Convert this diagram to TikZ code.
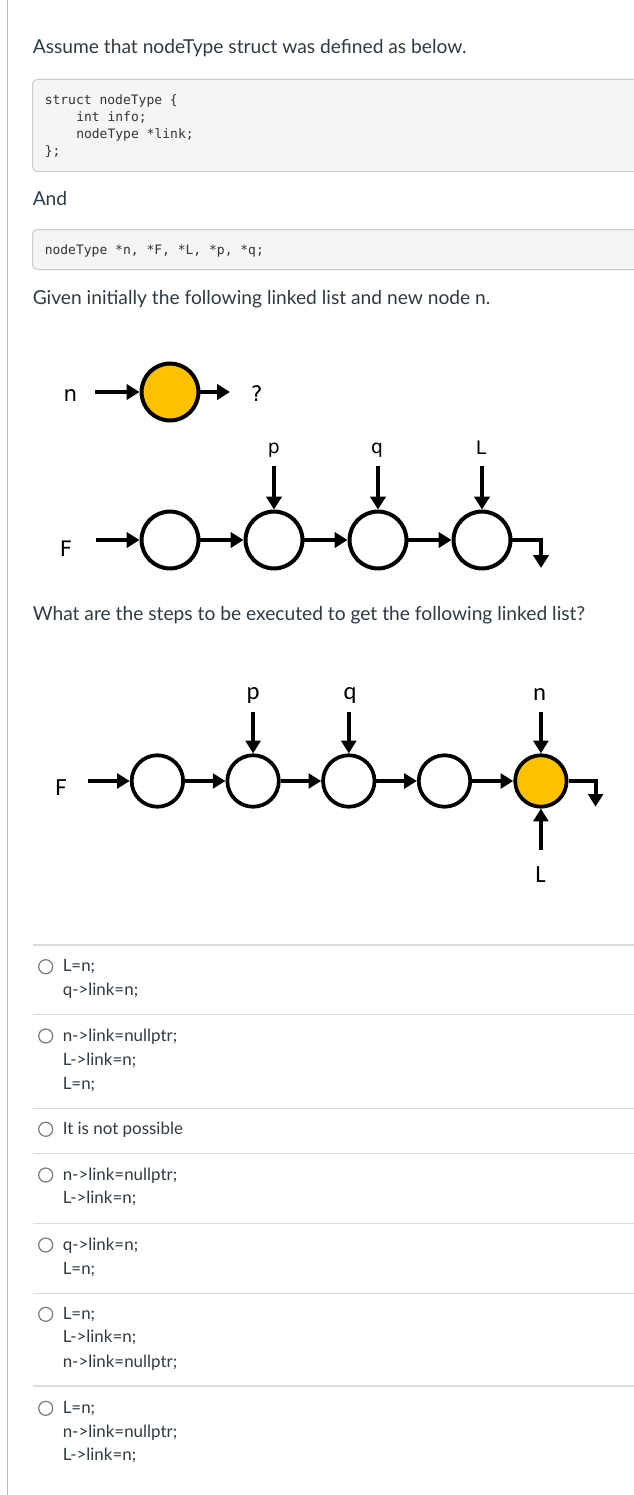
\documentclass[tikz,border=0pt]{standalone}
\usepackage{fontspec}
\setmainfont{Lato}
\newfontfamily\codefont{DejaVu Sans Mono}
\newfontfamily\diafont{DejaVu Sans}
\newfontfamily\diabfont{Carlito}
\usetikzlibrary{arrows.meta}
\definecolor{txt}{HTML}{2D3B45}
\definecolor{codetxt}{HTML}{333333}
\definecolor{codebg}{HTML}{F5F5F5}
\definecolor{codeline}{HTML}{CCCCCC}
\definecolor{sepcol}{HTML}{DDDDDD}
\definecolor{barcol}{HTML}{B8B8B8}
\definecolor{radiocol}{HTML}{7A7A7A}
\definecolor{orng}{HTML}{FFC000}
\tikzset{
  body/.style={anchor=base west, inner sep=0pt, text=txt, font=\fontsize{14.4}{17}\selectfont},
  opt/.style={anchor=base west, inner sep=0pt, text=txt, font=\fontsize{12.7}{15}\selectfont},
  code/.style={anchor=base west, inner sep=0pt, text=codetxt, font=\codefont\fontsize{9.75}{12}\selectfont},
  codebox/.style={draw=codeline, fill=codebg, line width=0.75pt, rounded corners=3.5pt},
  sepline/.style={draw=sepcol, line width=0.9pt},
  radio/.style={circle, draw=radiocol, line width=0.9pt, minimum size=10.5pt, inner sep=0pt},
  lbig/.style={anchor=base, inner sep=0pt, text=black, font=\diafont\fontsize{16}{18}\selectfont},
  lone/.style={anchor=base, inner sep=0pt, text=black, font=\diafont\fontsize{14}{16}\selectfont},
  ltwo/.style={anchor=base, inner sep=0pt, text=black, font=\diabfont\fontsize{18.5}{20}\selectfont},
  cone/.style={circle, draw=black, line width=3pt, minimum size=42.7pt, inner sep=0pt},
  ctwo/.style={circle, draw=black, line width=2.8pt, minimum size=38.6pt, inner sep=0pt},
  arr/.style={draw=black, line width=3.2pt, -{Triangle[length=9.75pt,width=11.5pt]}},
  arrb/.style={draw=black, line width=3pt, -{Triangle[length=9.5pt,width=11pt]}},
}
\begin{document}
\begin{tikzpicture}[x=0.75pt,y=-0.75pt]
\useasboundingbox (0,0) rectangle (634,1495);
\clip (0,0) rectangle (634,1495);
\fill[white] (0,0) rectangle (634,1495);
\draw[draw=barcol, line width=1.1pt] (7.5,0) -- (7.5,1495);

% ---- header text and code
\node[body] (t1) at (32.5,54) {Assume that nodeType struct was defined as below.};
\draw[codebox] (32.5,79.5) rectangle (660,171.5);
\node[code] (c1) at (44.5,104) {struct nodeType \{};
\node[code] (c2) at (76,121) {int info;};
\node[code] (c3) at (76,138) {nodeType *link;};
\node[code] (c4) at (44.5,155) {\};};
\node[body] (t2) at (32.5,205) {And};
\draw[codebox] (32.5,229.5) rectangle (660,269.5);
\node[code] (c5) at (44.5,254) {nodeType *n, *F, *L, *p, *q;};
\node[body] (t3) at (32.5,304) {Given initially the following linked list and new node n.};

% ---- diagram 1
\node[cone, fill=orng] (o) at (170,392) {};
\node[cone] (a1) at (170,540) {};
\node[cone] (a2) at (274,540) {};
\node[cone] (a3) at (378,540) {};
\node[cone] (a4) at (482,540) {};
\node[lbig] (ln) at (70.5,401) {n};
\node[lbig] (lq) at (256.7,401) {?};
\node[lone] (lp) at (273.7,453) {p};
\node[lone] (lqq) at (377,453) {q};
\node[lone] (lL) at (481,454) {L};
\node[lbig] (lF) at (66,556) {F};
\coordinate (ns) at (95,392);
\coordinate (qe) at (230,392);
\coordinate (fs) at (96,540);
\coordinate (ps) at (274,466);
\coordinate (qs) at (378,466);
\coordinate (Ls) at (482,466);
\coordinate (e1) at (541,568);
\draw[arr] (ns) -- (o.west);
\draw[arr] (o.east) -- (qe);
\draw[arr] (fs) -- (a1.west);
\draw[arr] (a1.east) -- (a2.west);
\draw[arr] (a2.east) -- (a3.west);
\draw[arr] (a3.east) -- (a4.west);
\draw[arr] (a4.east) -| (e1);
\draw[arr] (ps) -- (a2.north);
\draw[arr] (qs) -- (a3.north);
\draw[arr] (Ls) -- (a4.north);

\node[body] (t4) at (32.5,620) {What are the steps to be executed to get the following linked list?};

% ---- diagram 2
\node[ctwo] (b1) at (157.4,781) {};
\node[ctwo] (b2) at (253.1,781) {};
\node[ctwo] (b3) at (348.8,781) {};
\node[ctwo] (b4) at (444.5,781) {};
\node[ctwo, fill=orng] (b5) at (540.9,781) {};
\node[ltwo] (mF) at (61,795) {F};
\node[ltwo] (mp) at (253.1,699) {p};
\node[ltwo] (mq) at (350,699) {q};
\node[ltwo] (mn) at (539.5,700) {n};
\node[ltwo] (mL) at (540.5,882) {L};
\coordinate (gs) at (88,781);
\coordinate (p2) at (253.1,712);
\coordinate (q2) at (348.8,712);
\coordinate (n2) at (540.9,712);
\coordinate (L2) at (540.9,850);
\coordinate (e2) at (595.6,806.7);
\draw[arrb] (gs) -- (b1.west);
\draw[arrb] (b1.east) -- (b2.west);
\draw[arrb] (b2.east) -- (b3.west);
\draw[arrb] (b3.east) -- (b4.west);
\draw[arrb] (b4.east) -- (b5.west);
\draw[arrb] (b5.east) -| (e2);
\draw[arrb] (p2) -- (b2.north);
\draw[arrb] (q2) -- (b3.north);
\draw[arrb] (n2) -- (b5.north);
\draw[arrb] (L2) -- (b5.south);

% ---- options
\foreach \yy in {945,1014.3,1108.3,1153.3,1223.3,1293.3,1386}
  \draw[sepline] (32.5,\yy) -- (634,\yy);
\node[radio] (r1) at (45.7,966.7) {};
\node[opt] (o1a) at (62.5,971.7) {L=n;};
\node[opt] (o1b) at (62.5,995) {q->link=n;};
\node[radio] (r2) at (45.7,1036) {};
\node[opt] (o2a) at (62.5,1041.7) {n->link=nullptr;};
\node[opt] (o2b) at (62.5,1065) {L->link=n;};
\node[opt] (o2c) at (62.5,1089) {L=n;};
\node[radio] (r3) at (45.7,1129.3) {};
\node[opt] (o3a) at (62.5,1134) {It is not possible};
\node[radio] (r4) at (45.7,1175) {};
\node[opt] (o4a) at (62.5,1180) {n->link=nullptr;};
\node[opt] (o4b) at (62.5,1203.3) {L->link=n;};
\node[radio] (r5) at (45.7,1245) {};
\node[opt] (o5a) at (62.5,1250) {q->link=n;};
\node[opt] (o5b) at (62.5,1274) {L=n;};
\node[radio] (r6) at (45.7,1314.3) {};
\node[opt] (o6a) at (62.5,1319) {L=n;};
\node[opt] (o6b) at (62.5,1342.7) {L->link=n;};
\node[opt] (o6c) at (62.5,1367.3) {n->link=nullptr;};
\node[radio] (r7) at (45.7,1408.3) {};
\node[opt] (o7a) at (62.5,1413.3) {L=n;};
\node[opt] (o7b) at (62.5,1437.3) {n->link=nullptr;};
\node[opt] (o7c) at (62.5,1460.7) {L->link=n;};
\end{tikzpicture}
\end{document}
